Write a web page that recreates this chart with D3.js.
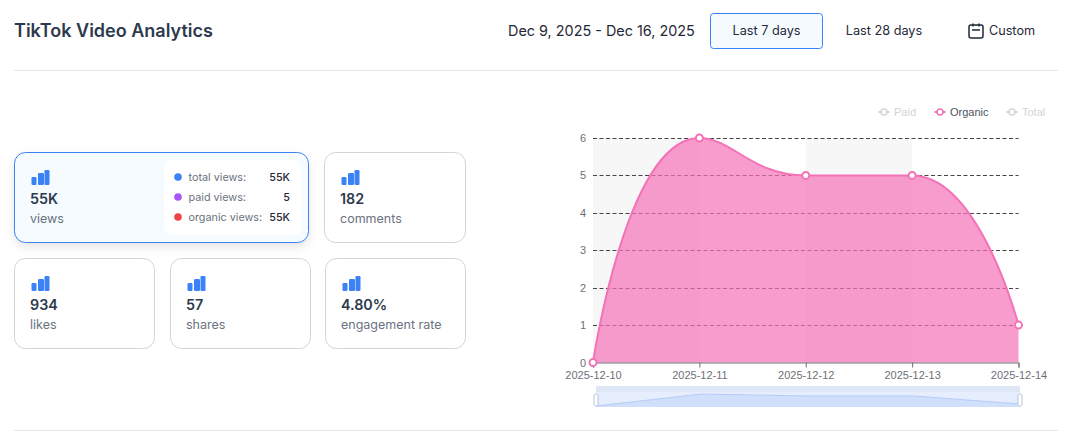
<!DOCTYPE html>
<html>
<head>
<meta charset="utf-8">
<title>TikTok Video Analytics</title>
<script src="https://cdn.jsdelivr.net/npm/d3@7"></script>
<style>
    html, body { margin: 0; padding: 0; background: #fff; }
    svg { display: block; }
    text { font-family: Inter, sans-serif; }
    .chart-text { font-family: "Liberation Sans", Arial, sans-serif; font-size: 11px; fill: #6e7079; }
</style>
</head>
<body>
<div id="container"></div>
<script>
// chart data
const dates = ["2025-12-10", "2025-12-11", "2025-12-12", "2025-12-13", "2025-12-14"];
const organicValues = [0, 6, 5, 5, 1];
const yTicks = [0, 1, 2, 3, 4, 5, 6];
const legendNames = ["Paid", "Organic", "Total"];

const cardValues = ["55K", "182", "934", "57", "4.80%"];
const cardLabels = ["views", "comments", "likes", "shares", "engagement rate"];
const breakdownLabels = ["total views:", "paid views:", "organic views:"];
const breakdownValues = ["55K", "5", "55K"];
const breakdownColors = ["#3b82f6", "#a855f7", "#ef4444"];

const WIDTH = 1074;
const HEIGHT = 434;
const PINK = "#f472b6";
const SMOOTH = 0.5;

const clamp = (v, a, b) => Math.max(Math.min(a, b), Math.min(v, Math.max(a, b)));

// d3 curve factory: bezier smoothing that never overshoots its neighbours
const smoothCurve = (context) => {
    let pts = [];
    let line = NaN;
    const draw = () => {
        context[line ? "lineTo" : "moveTo"](pts[0][0], pts[0][1]);
        let cp0 = pts[0];
        for (let i = 1; i < pts.length; i++) {
            const prev = pts[i - 1];
            const cur = pts[i];
            const next = pts[i + 1];
            if (!next) {
                context.bezierCurveTo(cp0[0], cp0[1], cur[0], cur[1], cur[0], cur[1]);
                break;
            }
            const lenPrev = Math.hypot(cur[0] - prev[0], cur[1] - prev[1]);
            const lenNext = Math.hypot(next[0] - cur[0], next[1] - cur[1]);
            const ratio = lenNext / (lenNext + lenPrev);
            // limit the forward control point, then the backward one
            const fx = clamp(cur[0] + (next[0] - prev[0]) * SMOOTH * ratio, cur[0], next[0]);
            const fy = clamp(cur[1] + (next[1] - prev[1]) * SMOOTH * ratio, cur[1], next[1]);
            const bx = clamp(cur[0] - ((fx - cur[0]) * lenPrev) / lenNext, prev[0], cur[0]);
            const by = clamp(cur[1] - ((fy - cur[1]) * lenPrev) / lenNext, prev[1], cur[1]);
            context.bezierCurveTo(cp0[0], cp0[1], bx, by, cur[0], cur[1]);
            cp0 = [
                cur[0] + ((cur[0] - bx) * lenNext) / lenPrev,
                cur[1] + ((cur[1] - by) * lenNext) / lenPrev,
            ];
        }
    };
    return {
        areaStart() { line = 0; },
        areaEnd() { line = NaN; },
        lineStart() { pts = []; },
        point(x, y) { pts.push([+x, +y]); },
        lineEnd() {
            draw();
            if (line === 1) context.closePath();
            line = 1 - line;
        },
    };
};

const svg = d3
    .select("#container")
    .append("svg")
    .attr("width", WIDTH)
    .attr("height", HEIGHT);

const defs = svg.append("defs");
const shadow = defs
    .append("filter")
    .attr("id", "card-shadow")
    .attr("x", "-10%")
    .attr("y", "-20%")
    .attr("width", "120%")
    .attr("height", "150%");
shadow
    .append("feDropShadow")
    .attr("dx", 0)
    .attr("dy", 4)
    .attr("stdDeviation", 5)
    .attr("flood-color", "#000")
    .attr("flood-opacity", 0.1);

// header
svg.append("text")
    .attr("x", 14)
    .attr("y", 37)
    .attr("font-size", 18)
    .attr("font-weight", 600)
    .attr("fill", "#2d3a4e")
    .text("TikTok Video Analytics");

svg.append("text")
    .attr("x", 508)
    .attr("y", 36)
    .attr("font-size", 14.4)
    .attr("fill", "#1f2937")
    .text("Dec 9, 2025 - Dec 16, 2025");

svg.append("rect")
    .attr("x", 710.5)
    .attr("y", 13.5)
    .attr("width", 112)
    .attr("height", 35)
    .attr("rx", 3)
    .attr("fill", "#f5faff")
    .attr("stroke", "#3b82f6");

const headerBtn = (x, label) =>
    svg.append("text")
        .attr("x", x)
        .attr("y", 35)
        .attr("font-size", 12.7)
        .attr("text-anchor", "middle")
        .attr("fill", "#1f2937")
        .text(label);
headerBtn(766.5, "Last 7 days");
headerBtn(884, "Last 28 days");
headerBtn(1012, "Custom");

// calendar icon
const cal = svg.append("g")
    .attr("fill", "none")
    .attr("stroke", "#1f2937")
    .attr("stroke-width", 1.5);
cal.append("rect").attr("x", 969).attr("y", 25).attr("width", 14).attr("height", 13).attr("rx", 2);
cal.append("path").attr("d", "M973 23.5v3M979 23.5v3M972 30h8");

const rule = (y) =>
    svg.append("line")
        .attr("x1", 14)
        .attr("x2", 1058)
        .attr("y1", y)
        .attr("y2", y)
        .attr("stroke", "#e5e7eb");
rule(70.5);
rule(430.5);

// metric cards, same order as cardValues
const cardBoxes = [
    { x: 14.5, y: 152.5, w: 294, h: 90 },
    { x: 324.5, y: 152.5, w: 141, h: 90 },
    { x: 14.5, y: 258.5, w: 140, h: 90 },
    { x: 170.5, y: 258.5, w: 140, h: 90 },
    { x: 325.5, y: 258.5, w: 140, h: 90 },
];

const cards = svg
    .selectAll("g.card")
    .data(cardValues)
    .join("g")
    .attr("class", "card")
    .attr("transform", (d, i) => `translate(${cardBoxes[i].x},${cardBoxes[i].y})`);

cards.append("rect")
    .attr("width", (d, i) => cardBoxes[i].w)
    .attr("height", (d, i) => cardBoxes[i].h)
    .attr("rx", 11)
    .attr("fill", (d, i) => (i === 0 ? "#f5fbff" : "#fff"))
    .attr("stroke", (d, i) => (i === 0 ? "#3b82f6" : "#d1d5db"))
    .attr("filter", (d, i) => (i === 0 ? "url(#card-shadow)" : null));

// little bar icon
cards.each(function () {
    const g = d3.select(this);
    [[17, 8, 5], [23.5, 12, 6], [30, 15, 5]].forEach(([x, h, w]) => {
        g.append("rect")
            .attr("x", x)
            .attr("y", 32.5 - h)
            .attr("width", w)
            .attr("height", h)
            .attr("rx", 1.2)
            .attr("fill", "#3b82f6");
    });
});

cards.append("text")
    .attr("x", 15.5)
    .attr("y", 51.5)
    .attr("font-size", 14.3)
    .attr("font-weight", 600)
    .attr("fill", "#2d3a4e")
    .text((d) => d);

cards.append("text")
    .attr("x", 15.5)
    .attr("y", 70.5)
    .attr("font-size", 12.5)
    .attr("fill", "#6b7280")
    .text((d, i) => cardLabels[i]);

// breakdown box inside the views card
svg.append("rect")
    .attr("x", 164)
    .attr("y", 160)
    .attr("width", 137)
    .attr("height", 75)
    .attr("rx", 7)
    .attr("fill", "#fff");

const rowY = d3.scalePoint().domain(breakdownLabels).range([177, 217]);
const rows = svg
    .selectAll("g.row")
    .data(breakdownLabels)
    .join("g")
    .attr("class", "row")
    .attr("transform", (d) => `translate(0,${rowY(d)})`);
rows.append("circle")
    .attr("cx", 178)
    .attr("r", 3.8)
    .attr("fill", (d, i) => breakdownColors[i]);
rows.append("text")
    .attr("x", 188.5)
    .attr("y", 3.5)
    .attr("font-size", 10.8)
    .attr("fill", "#6b7280")
    .text((d) => d);
rows.append("text")
    .attr("x", 290)
    .attr("y", 3.5)
    .attr("font-size", 10.8)
    .attr("font-weight", 500)
    .attr("text-anchor", "end")
    .attr("fill", "#1f2937")
    .text((d, i) => breakdownValues[i]);

// area chart
const x = d3.scalePoint().domain(dates).range([593, 1018.5]);
const y = d3.scaleLinear().domain([0, 6]).range([362.5, 138]);

// alternating split areas
svg.selectAll("rect.band")
    .data(d3.pairs(dates).filter((d, i) => i % 2 === 0))
    .join("rect")
    .attr("class", "band")
    .attr("x", (d) => x(d[0]))
    .attr("width", (d) => x(d[1]) - x(d[0]))
    .attr("y", y(6))
    .attr("height", y(0) - y(6))
    .attr("fill", "#f7f7f7");

svg.selectAll("line.grid")
    .data(yTicks.filter((d) => d > 0))
    .join("line")
    .attr("class", "grid")
    .attr("x1", 593)
    .attr("x2", 1018.5)
    .attr("y1", (d) => Math.round(y(d)) + 0.5)
    .attr("y2", (d) => Math.round(y(d)) + 0.5)
    .attr("stroke", "#444")
    .attr("stroke-dasharray", "4 2.5");

const area = d3
    .area()
    .x((d, i) => x(dates[i]))
    .y0(y(0))
    .y1((d) => y(d))
    .curve(smoothCurve);
const line = d3
    .line()
    .x((d, i) => x(dates[i]))
    .y((d) => y(d))
    .curve(smoothCurve);

svg.append("path")
    .attr("d", area(organicValues))
    .attr("fill", PINK)
    .attr("fill-opacity", 0.7);
svg.append("path")
    .attr("d", line(organicValues))
    .attr("fill", "none")
    .attr("stroke", PINK)
    .attr("stroke-width", 2);

// axes
const xAxis = d3.axisBottom(x).tickSize(5).tickPadding(4);
const gx = svg.append("g").attr("transform", `translate(0,${y(0)})`).call(xAxis);
gx.select(".domain").attr("stroke", "#6e7079");
gx.selectAll(".tick line").attr("stroke", "#6e7079");
gx.selectAll("text").attr("class", "chart-text");

const yAxis = d3.axisLeft(y).tickValues(yTicks).tickFormat(d3.format("d")).tickSize(0).tickPadding(7);
const gy = svg.append("g").attr("transform", "translate(593,0)").call(yAxis);
gy.select(".domain").remove();
gy.selectAll("text").attr("class", "chart-text");

svg.selectAll("circle.pt")
    .data(organicValues)
    .join("circle")
    .attr("class", "pt")
    .attr("cx", (d, i) => x(dates[i]))
    .attr("cy", (d) => y(d))
    .attr("r", 3.5)
    .attr("fill", "#fff")
    .attr("stroke", PINK)
    .attr("stroke-width", 2);

// legend
const legendX = d3.scaleOrdinal().domain(legendNames).range([884, 940, 1012]);
const legend = svg
    .selectAll("g.legend")
    .data(legendNames)
    .join("g")
    .attr("class", "legend")
    .attr("transform", (d) => `translate(${legendX(d)},112)`);
const legendColor = (d) => (d === "Organic" ? PINK : "#d4d4d4");
legend.append("line")
    .attr("x1", -5.5)
    .attr("x2", 5.5)
    .attr("stroke", legendColor)
    .attr("stroke-width", 2);
legend.append("circle")
    .attr("r", 3)
    .attr("fill", "#fff")
    .attr("stroke", legendColor)
    .attr("stroke-width", 1.5);
legend.append("text")
    .attr("x", 10)
    .attr("y", 4)
    .attr("class", "chart-text")
    .style("fill", (d) => (d === "Organic" ? "#4b5563" : "#d4d4d4"))
    .text((d) => d);

// data zoom slider
const sx = d3.scalePoint().domain(dates).range([596, 1020]);
const sy = d3.scaleLinear().domain([0, 6]).range([406, 394]);
svg.append("rect")
    .attr("x", 596)
    .attr("y", 386)
    .attr("width", 424)
    .attr("height", 21)
    .attr("fill", "#dfe6f5");
svg.append("rect")
    .attr("x", 596)
    .attr("y", 392)
    .attr("width", 424)
    .attr("height", 15)
    .attr("fill", "#e6edfc");
const miniArea = d3
    .area()
    .x((d, i) => sx(dates[i]))
    .y0(407)
    .y1((d) => sy(d));
const miniLine = d3
    .line()
    .x((d, i) => sx(dates[i]))
    .y((d) => sy(d));
svg.append("path")
    .attr("d", miniArea(organicValues))
    .attr("fill", "#d0dffb");
svg.append("path")
    .attr("d", miniLine(organicValues))
    .attr("fill", "none")
    .attr("stroke", "#b4ccf7");
svg.selectAll("rect.handle")
    .data([596, 1020])
    .join("rect")
    .attr("class", "handle")
    .attr("x", (d) => d - 2)
    .attr("y", 394)
    .attr("width", 4)
    .attr("height", 12)
    .attr("rx", 1.5)
    .attr("fill", "#fff")
    .attr("stroke", "#b8c4d8");
</script>
</body>
</html>
